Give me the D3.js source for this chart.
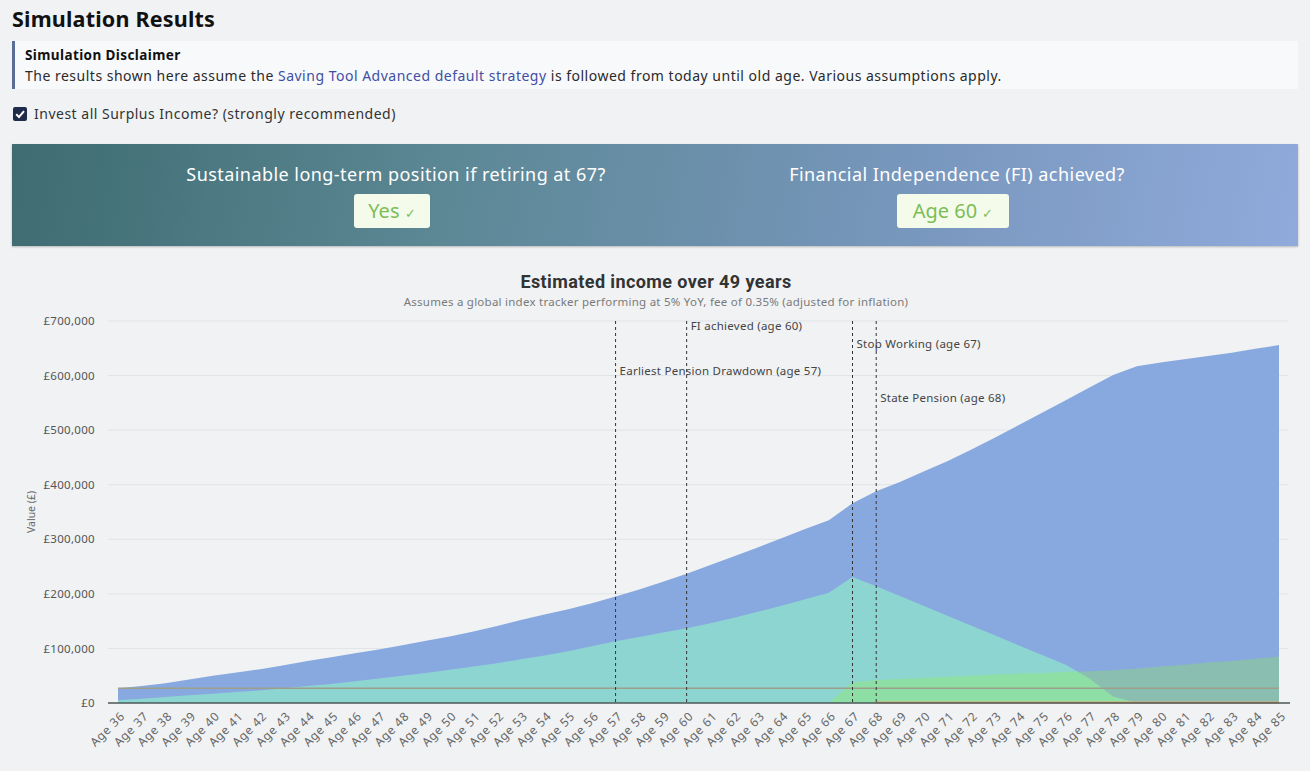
<!DOCTYPE html>
<html>
<head>
<meta charset="utf-8">
<script src="https://cdn.jsdelivr.net/npm/d3@7"></script>
<style>
  html, body { margin: 0; padding: 0; }
  body { width: 1310px; height: 771px; background: #f0f2f4; position: relative; overflow: hidden; font-family: "Noto Sans", "Open Sans", sans-serif; color: #222; }
  .abs { position: absolute; }
  #h1 { left: 12px; top: 4px; font-family: "Noto Sans", sans-serif; font-weight: 700; font-size: 21.5px; color: #111; letter-spacing: 0.2px; }
  #disc { left: 12px; top: 41px; width: 1283px; height: 48px; background: #f8f9fb; border-left: 3px solid #5a6d96; }
  #disc .t { position: absolute; left: 10px; top: 5px; font-weight: 700; font-size: 13.5px; color: #111; letter-spacing: 0.4px; }
  #disc .b { position: absolute; left: 10px; top: 25px; font-size: 14px; color: #2a2a2a; white-space: nowrap; letter-spacing: 0.5px; }
  #disc a { color: #3f4fa3; text-decoration: none; }
  #chk { left: 13px; top: 107px; width: 14px; height: 14px; background: #1e2b4a; border-radius: 2px; }
  #chkl { left: 34px; top: 104px; font-size: 14px; color: #333; white-space: nowrap; letter-spacing: 0.5px; }
  #banner { left: 12px; top: 144px; width: 1286px; height: 102px; background: linear-gradient(100deg, #3e6c71 0%, #5d8896 35%, #7897bd 70%, #90aadb 100%); box-shadow: 0 1px 2px rgba(0,0,0,0.25); }
  .bq { position: absolute; top: 18px; font-family: "Noto Sans", sans-serif; font-size: 18px; color: #fff; white-space: nowrap; transform: translateX(-50%); letter-spacing: 0.45px; }
  .badge { position: absolute; top: 50px; height: 34px; background: #f4fbeb; border-radius: 3px; color: #7dbd57; font-family: "Noto Sans", sans-serif; font-size: 20px; line-height: 34px; text-align: center; }
  .badge span { font-size: 13px; }
  svg { position: absolute; left: 0; top: 0; }
</style>
</head>
<body>
<div class="abs" id="h1">Simulation Results</div>
<div class="abs" id="disc">
  <div class="t">Simulation Disclaimer</div>
  <div class="b">The results shown here assume the <a>Saving Tool Advanced default strategy</a> is followed from today until old age. Various assumptions apply.</div>
</div>
<div class="abs" id="chk"><svg width="14" height="14" style="position:absolute;left:0;top:0"><path d="M3.2 7.2 L6 10 L11 4.2" fill="none" stroke="#fff" stroke-width="2"/></svg></div>
<div class="abs" id="chkl">Invest all Surplus Income? (strongly recommended)</div>
<div class="abs" id="banner">
  <div class="bq" style="left:384px">Sustainable long-term position if retiring at 67?</div>
  <div class="bq" style="left:945px">Financial Independence (FI) achieved?</div>
  <div class="badge" style="left:342px;width:76px">Yes <span>✓</span></div>
  <div class="badge" style="left:885px;width:112px">Age 60 <span>✓</span></div>
</div>
<svg id="chart" width="1310" height="771"></svg>
<script>
// ---- data ----
const ages = [36,37,38,39,40,41,42,43,44,45,46,47,48,49,50,51,52,53,54,55,56,57,58,59,60,61,62,63,64,65,66,67,68,69,70,71,72,73,74,75,76,77,78,79,80,81,82,83,84,85];
const totalValue = [27000,31000,36000,43000,50000,56000,62000,69000,77000,84000,91000,98000,106000,114000,122000,131000,141000,152000,162000,172000,183000,195000,208000,222000,237000,253000,269000,285000,302000,319000,335000,366000,388000,405000,424000,443000,464000,486000,509000,532000,555000,578000,601000,617000,624000,630000,636000,642000,649000,656000];
const pensionValue = [5000,8000,11000,14000,17000,20000,23000,27000,31000,35000,40000,45000,50000,55000,61000,67000,73000,80000,87000,95000,104000,113000,121000,129000,137000,146000,156000,167000,178000,190000,202000,231000,214000,196000,178000,160000,142000,124000,106000,88000,70000,45000,12000,0,0,0,0,0,0,0];
const isaValue = [null,null,null,null,null,null,null,null,null,null,null,null,null,null,null,null,null,null,null,null,null,null,null,null,null,null,null,null,null,null,0,38000,42000,44000,46000,48000,50000,52000,54000,55000,57000,58000,60000,63000,67000,70000,74000,77000,81000,85000];
const statePension = [null,null,null,null,null,null,null,null,null,null,null,null,null,null,null,null,null,null,null,null,null,null,null,null,null,null,null,null,null,null,null,null,800,800,800,800,800,800,800,800,800,800,800,800,800,800,800,800,800,800];
const expenses = 27000;
const yTicks = [0,100000,200000,300000,400000,500000,600000,700000];
const milestones = [
  {age:57, label:"Earliest Pension Drawdown (age 57)"},
  {age:60, label:"FI achieved (age 60)"},
  {age:67, label:"Stop Working (age 67)"},
  {age:68, label:"State Pension (age 68)"}
];
const titleText = "Estimated income over 49 years";
const subtitleText = "Assumes a global index tracker performing at 5% YoY, fee of 0.35% (adjusted for inflation)";

// ---- layout ----
const milestoneLabelY = [375, 330, 348, 402];
const svg = d3.select("#chart");
const x = d3.scalePoint().domain(ages).range([118, 1279]);
const y = d3.scaleLinear().domain([0, 700000]).range([703, 321]);
const gridX0 = 108, gridX1 = 1288;

svg.append("text").attr("x", 656).attr("y", 288).attr("text-anchor", "middle")
  .attr("font-family", "Roboto, sans-serif").attr("font-weight", 700).attr("font-size", 18).attr("letter-spacing", 0.4).attr("fill", "#333").text(titleText);
svg.append("text").attr("x", 656).attr("y", 306).attr("text-anchor", "middle")
  .attr("font-family", "Noto Sans, sans-serif").attr("font-size", 11.5).attr("letter-spacing", 0.25).attr("fill", "#7a7a7a").text(subtitleText);

// grid + y axis
const yAxis = d3.axisLeft(y).tickValues(yTicks).tickSize(0).tickPadding(0)
  .tickFormat(d => "£" + d3.format(",")(d));
const gy = svg.append("g").attr("transform", `translate(95,0)`).call(yAxis);
gy.select(".domain").remove();
gy.selectAll("text").attr("font-family", "Noto Sans, sans-serif").attr("font-size", 11.5).attr("letter-spacing", 0.3).attr("fill", "#555");
svg.append("g").selectAll("line").data(yTicks.filter(d => d > 0)).join("line")
  .attr("x1", gridX0).attr("x2", gridX1).attr("y1", d => y(d)).attr("y2", d => y(d))
  .attr("stroke", "#e1e4e7").attr("stroke-width", 1);
svg.append("text").attr("transform", `translate(35,${(y(0)+y(700000))/2}) rotate(-90)`).attr("text-anchor", "middle")
  .attr("font-family", "Noto Sans, sans-serif").attr("font-size", 10.5).attr("fill", "#666").text("Value (£)");

// areas
const area = (vals) => d3.area().defined((d,i) => vals[i] !== null)
  .x((d,i) => x(ages[i])).y0(y(0)).y1((d,i) => y(vals[i]))(vals);
svg.append("path").attr("d", area(totalValue)).attr("fill", "#88a9e0");
svg.append("path").attr("d", area(pensionValue)).attr("fill", "#8dd5d1");
svg.append("path").attr("d", area(isaValue)).attr("fill", "#8efc27").attr("fill-opacity", 0.26);

// expenses line
svg.append("line").attr("x1", x(ages[0])).attr("x2", x(ages[ages.length-1]))
  .attr("y1", y(expenses)).attr("y2", y(expenses)).attr("stroke", "#9e9f8a").attr("stroke-width", 1.6);

// state pension line
const spLine = d3.line().defined((d,i) => statePension[i] !== null).x((d,i) => x(ages[i])).y((d,i) => y(statePension[i]));
svg.append("path").attr("d", spLine(statePension)).attr("fill", "none").attr("stroke", "#e2a46a").attr("stroke-width", 2);

// x axis line
svg.append("line").attr("x1", gridX0).attr("x2", 1290).attr("y1", y(0)).attr("y2", y(0)).attr("stroke", "#4b5757").attr("stroke-width", 1.5);

// x labels
const xAxis = d3.axisBottom(x).tickSize(0).tickPadding(0).tickFormat(d => "Age " + d);
const gx = svg.append("g").attr("transform", `translate(0,${y(0)})`).call(xAxis);
gx.select(".domain").remove();
gx.selectAll("text").attr("font-family", "Noto Sans, sans-serif").attr("font-size", 12).attr("letter-spacing", 0.7).attr("fill", "#666")
  .attr("text-anchor", "end").attr("dy", 0).attr("y", 0)
  .attr("transform", "translate(7,14) rotate(-45)");

// milestones
const ms = svg.append("g");
ms.selectAll("line").data(milestones).join("line")
  .attr("x1", d => x(d.age)).attr("x2", d => x(d.age)).attr("y1", y(700000)).attr("y2", y(0))
  .attr("stroke", "#333").attr("stroke-width", 1).attr("stroke-dasharray", "3,3");
ms.selectAll("text").data(milestones).join("text")
  .attr("x", d => x(d.age) + 4).attr("y", (d,i) => milestoneLabelY[i])
  .attr("font-family", "Noto Sans, sans-serif").attr("font-size", 11.5).attr("letter-spacing", 0.25).attr("fill", "#444").text(d => d.label);
</script>
</body>
</html>
